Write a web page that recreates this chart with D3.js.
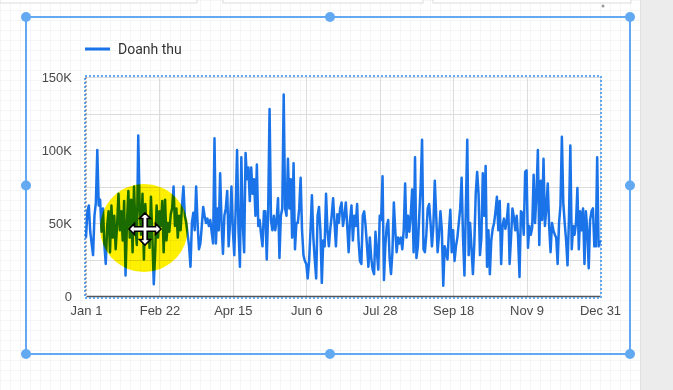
<!DOCTYPE html>
<html>
<head>
<meta charset="utf-8">
<script src="https://cdn.jsdelivr.net/npm/d3@7"></script>
<style>
  body { margin: 0; background: #fff; }
  svg { display: block; font-family: Roboto, "Noto Sans", sans-serif; }
</style>
</head>
<body>
<div id="chart"></div>
<script>
// daily revenue, Jan 1 .. Dec 31 (thousands)
var startDate = '2019-01-01';
var endDate = '2019-12-31';
var seriesName = 'Doanh thu';
var revenueK = [
  40,58,62,44,36,28,55,64,100,62,
  66,44,60,35,22,48,58,30,62,40,
  55,32,48,70,45,58,38,65,14,50,
  72,40,66,30,75,48,35,110,60,42,
  70,25,63,45,52,33,68,40,8,30,
  62,40,58,48,65,30,66,38,50,44,56,
  60,75,48,60,40,55,45,62,75,55,
  50,42,34,20,50,57,45,75,50,32,
  36,48,61,55,50,53,48,52,44,36,
  108,36,60,45,84,50,29,55,60,72,
  34,50,75,45,28,60,100,45,20,95,
  50,30,98,80,88,65,88,70,80,55,
  90,48,
  52,42,34,58,58,25,58,128,52,45,
  55,45,52,67,26,55,60,138,60,55,
  94,60,80,40,91,32,50,50,60,81,
  45,28,24,22,12,24,45,69,40,25,
  12,55,61,45,9,38,34,70,45,34,
  46,55,67,50,34,56,50,60,64,48,
  55,64,48,30,52,62,38,55,48,63,
  38,24,22,55,58,48,34,20,40,26,
  18,15,44,30,18,55,52,82,11,35,
  48,52,26,15,30,64,45,30,40,36,
  40,32,45,77,40,55,44,56,73,30,
  95,26,34,55,75,107,32,30,42,60,63,
  50,34,48,79,55,30,42,58,45,7,
  34,30,25,44,59,30,45,24,34,40,
  50,60,81,40,14,60,107,28,50,33,
  15,36,70,85,70,28,40,84,55,89,
  20,45,15,38,46,50,58,68,45,65,
  22,48,53,46,52,63,22,40,60,54,45,
  55,40,13,58,57,42,85,86,33,48,
  42,47,83,50,70,100,35,79,52,94,
  48,60,77,48,30,50,45,42,40,22,
  50,62,109,64,50,38,21,52,103,32,
  48,42,50,74,32,58,45,60,22,58,
  45,19,52,58,60,34,34,95,34,38
];
var yTicks = [0, 50000, 100000, 150000];
var yGrid = [25000, 50000, 75000, 100000, 125000, 150000];
var tickStepDays = 52;

var width = 673, height = 390;
var lineColor = '#1a73e8';
var selColor = '#62a9f1';

var parse = d3.timeParse('%Y-%m-%d');
var t0 = parse(startDate), t1 = parse(endDate);
var data = revenueK.map(function (v, i) {
    return { date: d3.timeDay.offset(t0, i), value: v * 1000 };
});

var svg = d3.select('#chart').append('svg')
    .attr('width', width)
    .attr('height', height);

// editor grid background
var defs = svg.append('defs');
var pat = defs.append('pattern')
    .attr('id', 'editor-grid')
    .attr('width', 10).attr('height', 10)
    .attr('patternUnits', 'userSpaceOnUse');
pat.append('path')
    .attr('d', 'M10 0 L0 0 0 10')
    .attr('fill', 'none')
    .attr('stroke', '#e9edf1')
    .attr('stroke-width', 1);
svg.append('rect').attr('width', 641).attr('height', height).attr('fill', 'url(#editor-grid)');
svg.append('rect').attr('x', 641).attr('width', 32).attr('height', height).attr('fill', '#ececec');
svg.append('line').attr('x1', 640.5).attr('x2', 640.5).attr('y1', 0).attr('y2', height)
    .attr('stroke', '#e0e0e0');

// neighbouring components peeking in at the top
[[0, 197], [223, 423], [433, 631]].forEach(function (b) {
    svg.append('rect')
        .attr('x', b[0]).attr('y', -10)
        .attr('width', b[1] - b[0]).attr('height', 13)
        .attr('fill', '#fff')
        .attr('stroke', '#dcdcdc');
});
svg.append('circle').attr('cx', 603).attr('cy', 6).attr('r', 1.5).attr('fill', '#999');

var margin = { left: 86, right: 600, top: 77, bottom: 296 };

var x = d3.scaleTime()
    .domain([t0, t1])
    .range([margin.left, margin.right]);
var y = d3.scaleLinear()
    .domain([0, 150000])
    .range([margin.bottom, margin.top]);

var xTickDates = d3.range(0, 365, tickStepDays).map(function (d) { return d3.timeDay.offset(t0, d); });

var g = svg.append('g');

// grid lines
g.selectAll('.hgrid')
    .data(yGrid)
    .enter().append('line')
    .attr('x1', margin.left).attr('x2', margin.right)
    .attr('y1', function (d) { return Math.round(y(d)) + 0.5; })
    .attr('y2', function (d) { return Math.round(y(d)) + 0.5; })
    .attr('stroke', '#dcdcdc');
g.selectAll('.vgrid')
    .data(xTickDates.slice(1))
    .enter().append('line')
    .attr('x1', function (d) { return Math.round(x(d)) + 0.5; })
    .attr('x2', function (d) { return Math.round(x(d)) + 0.5; })
    .attr('y1', margin.top).attr('y2', margin.bottom)
    .attr('stroke', '#dcdcdc');

// axes
var xAxis = d3.axisBottom(x)
    .tickValues(xTickDates)
    .tickFormat(d3.timeFormat('%b %-d'))
    .tickSize(0)
    .tickPadding(10);
var gx = g.append('g')
    .attr('transform', 'translate(0,' + margin.bottom + ')')
    .call(xAxis);
gx.select('.domain').attr('stroke', '#555').attr('stroke-width', 1.5);
gx.selectAll('text').attr('fill', '#4a4a4a').style('font-size', '13px');

var yAxis = d3.axisLeft(y)
    .tickValues(yTicks)
    .tickFormat(function (d) { return d === 0 ? '0' : (d / 1000) + 'K'; })
    .tickSize(0)
    .tickPadding(14);
var gy = g.append('g')
    .attr('transform', 'translate(' + margin.left + ',0)')
    .call(yAxis);
gy.select('.domain').remove();
gy.selectAll('text').attr('fill', '#4a4a4a').style('font-size', '13px');

// selected plot area outline (dotted)
g.append('rect')
    .attr('x', margin.left - 1).attr('y', margin.top - 1)
    .attr('width', margin.right - margin.left + 2)
    .attr('height', margin.bottom - margin.top + 3)
    .attr('fill', 'none')
    .attr('stroke', selColor)
    .attr('stroke-width', 2)
    .attr('stroke-dasharray', '2,2');
g.append('line')
    .attr('x1', margin.left).attr('x2', margin.left)
    .attr('y1', margin.top).attr('y2', margin.bottom)
    .attr('stroke', '#666').attr('stroke-dasharray', '2,2');

// the series
var line = d3.line()
    .x(function (d) { return x(d.date); })
    .y(function (d) { return y(d.value); });
g.append('path')
    .datum(data)
    .attr('d', line)
    .attr('fill', 'none')
    .attr('stroke', lineColor)
    .attr('stroke-width', 2.5)
    .attr('stroke-linejoin', 'round');

// legend
var legend = svg.append('g').attr('transform', 'translate(85,49)');
legend.append('line').attr('x1', 0).attr('x2', 25)
    .attr('stroke', lineColor).attr('stroke-width', 3);
legend.append('text').attr('x', 33).attr('y', 5)
    .attr('fill', '#333').style('font-size', '14px')
    .text(seriesName);

// selection frame of the component
var frame = { x0: 26, x1: 630, y0: 17, y1: 354 };
svg.append('rect')
    .attr('x', frame.x0).attr('y', frame.y0)
    .attr('width', frame.x1 - frame.x0).attr('height', frame.y1 - frame.y0)
    .attr('fill', 'none')
    .attr('stroke', selColor)
    .attr('stroke-width', 2);
var xm = (frame.x0 + frame.x1) / 2, ym = (frame.y0 + frame.y1) / 2;
var handles = [[frame.x0, frame.y0], [xm + 2, frame.y0], [frame.x1, frame.y0],
    [frame.x0, ym], [frame.x1, ym],
    [frame.x0, frame.y1], [xm + 2, frame.y1], [frame.x1, frame.y1]];
svg.selectAll('.handle')
    .data(handles)
    .enter().append('circle')
    .attr('cx', function (d) { return d[0]; })
    .attr('cy', function (d) { return d[1]; })
    .attr('r', 5)
    .attr('fill', selColor);

// click highlight + move cursor
svg.append('circle')
    .attr('cx', 144).attr('cy', 228).attr('r', 44)
    .attr('fill', '#fff000')
    .style('mix-blend-mode', 'multiply');
var pts = [[0,-16],[5.5,-10.5],[2.2,-10.5],[2.2,-2.2],[10.5,-2.2],[10.5,-5.5],[16,0],[10.5,5.5],[10.5,2.2],
    [2.2,2.2],[2.2,10.5],[5.5,10.5],[0,16],[-5.5,10.5],[-2.2,10.5],[-2.2,2.2],[-10.5,2.2],[-10.5,5.5],
    [-16,0],[-10.5,-5.5],[-10.5,-2.2],[-2.2,-2.2],[-2.2,-10.5],[-5.5,-10.5]];
svg.append('path')
    .attr('transform', 'translate(145,229)')
    .attr('d', 'M' + pts.join('L') + 'Z')
    .attr('fill', '#fff')
    .attr('stroke', '#000')
    .attr('stroke-width', 1.6)
    .attr('stroke-linejoin', 'miter');
</script>
</body>
</html>
